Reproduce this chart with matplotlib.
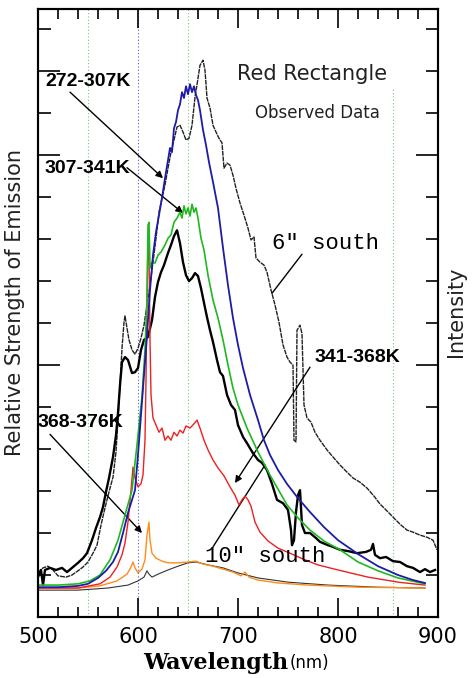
import matplotlib
matplotlib.use("Agg")
import matplotlib.pyplot as plt
from matplotlib.ticker import MultipleLocator, FixedLocator

# ---------------- data (wavelength nm, relative strength) ----------------
wl_blue = [500,520,540,550,560,568,575,580,585,590,594,597,600,603,606,609,612,615,618,621,624,627,
           630,632,634,636,638,640,642,644,646,648,650,652,654,656,658,660,662,665,668,671,675,680,
           685,690,695,700,705,712,720,726,732,740,749,760,772,786,800,820,840,860,875,887]
v_blue = [0.71,0.71,0.74,0.79,0.93,1.10,1.31,1.55,2.00,2.48,2.79,3.02,3.86,4.81,5.76,6.71,7.79,8.62,
          9.17,9.57,9.98,10.45,10.88,11.17,11.07,11.64,11.79,12.07,12.21,12.50,12.36,12.64,12.45,
          12.69,12.50,12.64,12.43,12.31,12.07,11.60,11.24,10.83,10.36,9.74,8.79,7.90,7.12,6.48,
          5.93,5.29,4.69,4.21,3.86,3.50,3.17,2.83,2.50,2.14,1.83,1.50,1.21,1.00,0.88,0.81]

wl_green = [500,520,540,552,562,572,580,587,594,599,604,607,609,610,611,612,614,617,620,623,627,630,
            633,636,639,642,644,646,648,650,652,654,656,658,660,663,666,670,675,680,685,690,695,700,
            709,720,732,749,760,772,786,802,820,840,860,887]
v_green = [0.76,0.76,0.79,0.86,1.00,1.36,1.83,2.43,3.02,4.10,5.24,6.36,7.55,9.33,9.40,8.31,8.45,
           8.43,8.62,8.69,8.86,9.02,9.10,9.40,9.50,9.64,9.50,9.79,9.60,9.74,9.55,9.83,9.64,9.74,
           9.50,9.02,8.74,8.14,7.55,7.12,6.60,6.00,5.45,5.05,4.50,3.93,3.38,2.67,2.36,2.07,1.81,
           1.60,1.31,1.10,0.93,0.79]

wl_red = [500,540,562,572,579,584,587,590,593,595,597,600,603,605,607,608,609,610,611,612,613,615,
          618,621,624,627,630,633,636,639,642,645,648,652,656,659,662,666,670,675,680,686,692,697,
          701,704,707,710,713,717,722,730,740,752,765,780,800,830,860,887]
v_red = [0.69,0.69,0.79,0.95,1.19,1.48,1.76,2.26,3.02,3.57,3.31,3.10,3.17,3.38,4.21,5.64,7.55,8.98,
         8.74,6.60,5.29,4.74,4.57,4.40,4.50,4.21,4.31,4.21,4.40,4.31,4.45,4.38,4.55,4.50,4.60,4.69,
         4.50,4.21,3.98,3.74,3.55,3.36,3.10,2.90,2.67,2.79,2.88,2.79,2.64,2.26,2.02,1.81,1.64,1.52,
         1.38,1.24,1.12,0.95,0.83,0.76]

wl_orange = [500,540,562,579,589,593,595,597,600,604,607,609,611,612,614,618,624,630,640,650,658,665,
             675,685,695,703,707,711,720,740,770,820,887]
v_orange = [0.69,0.69,0.74,0.86,1.02,1.19,1.31,1.17,1.05,1.14,1.36,1.95,2.26,1.83,1.52,1.40,1.33,
            1.29,1.29,1.31,1.33,1.26,1.21,1.14,1.07,0.98,1.07,0.95,0.88,0.81,0.76,0.71,0.69]

wl_base = [500,540,570,590,600,606,609,611,614,620,630,640,650,658,670,685,700,720,750,790,840,887]
v_base = [0.64,0.64,0.69,0.76,0.86,0.95,1.10,1.02,0.95,1.02,1.12,1.21,1.29,1.31,1.24,1.17,1.05,0.93,
          0.83,0.76,0.71,0.69]

wl_6s = [500,505,510,515,520,528,534,540,545,550,555,559,563,567,571,575,578,580,582,584,586,587,589,
         591,594,597,600,603,606,609,612,615,618,621,624,627,630,633,636,639,642,645,648,651,654,657,
         660,662,665,667,669,672,675,678,681,684,686,689,692,695,698,702,706,710,713,716,718,722,726,
         729,733,737,741,745,749,752,755,756,758,759,762,764,766,769,773,777,782,789,795,802,809,815,
         822,829,836,842,848,855,862,869,875,882,889,895,899]
v_6s = [1.05,1.17,1.21,1.12,0.98,0.95,1.00,1.10,1.19,1.31,1.52,1.71,2.19,2.60,2.98,3.33,3.93,4.69,
        5.52,6.40,7.02,7.17,6.88,6.60,6.36,6.26,6.40,6.64,6.95,7.43,7.90,8.45,9.02,9.64,9.98,10.29,
        10.69,11.07,11.36,11.67,11.71,11.55,11.36,11.40,11.71,12.38,12.83,13.14,13.26,13.02,12.36,
        12.12,11.71,11.55,11.40,11.29,10.69,10.81,10.76,10.52,10.21,9.86,9.57,9.26,8.98,9.05,8.55,
        8.45,8.38,8.21,7.79,7.43,7.02,6.48,6.19,6.07,6.00,4.21,4.17,6.83,6.95,6.74,5.05,4.74,4.64,
        4.40,4.21,3.98,3.81,3.62,3.45,3.31,3.21,3.07,2.88,2.69,2.55,2.38,2.21,2.07,2.02,1.95,1.90,
        1.83,1.60]

wl_10s = [500,503,505,507,512,518,524,529,535,540,545,549,554,558,562,565,568,571,575,578,580,582,
          584,587,590,594,597,600,603,606,610,614,617,620,623,626,630,633,636,639,642,645,648,651,
          654,657,660,663,666,669,672,675,679,682,685,689,693,697,700,705,709,715,720,724,729,734,
          739,745,750,753,754,756,758,760,762,764,767,772,778,782,790,795,802,810,819,828,833,835,
          837,842,848,855,862,869,875,882,887,892,897]
v_10s = [0.95,1.12,0.76,1.12,1.17,1.12,1.17,1.07,1.19,1.29,1.40,1.52,1.83,2.12,2.38,2.62,2.98,3.31,
         3.81,4.33,4.86,5.52,6.07,6.19,6.12,5.81,5.83,5.93,6.36,6.60,6.67,7.07,7.62,7.98,8.21,8.38,
         8.67,8.86,9.07,9.21,8.90,8.45,8.14,8.00,8.07,8.19,8.12,7.83,7.48,7.14,6.83,6.55,6.12,5.83,
         5.74,5.29,5.05,4.93,4.57,4.29,4.14,3.90,3.74,3.67,3.50,3.17,2.79,2.71,2.55,2.07,1.71,1.83,
         2.50,2.90,3.02,2.19,2.00,2.00,1.88,1.79,1.71,1.67,1.60,1.57,1.52,1.55,1.60,1.74,1.48,1.40,
         1.43,1.33,1.31,1.21,1.17,1.07,1.14,1.07,1.12]

grid_wl = [550, 600, 650, 855]
grid_colors = ["#7fc47f", "#5a5ad0", "#7fc47f", "#7fc47f"]
xtick_labels = ["500", "600", "700", "800", "900"]

# ---------------- figure ----------------
W, H = 474, 678
fig = plt.figure(figsize=(W / 100, H / 100), dpi=100)
ax = fig.add_axes([38 / W, 1 - 617 / H, 400 / W, 608 / H])
ax.set_xlim(500, 900)
ax.set_ylim(0, 14.48)

for g, c in zip(grid_wl, grid_colors):
    top = 12.6 if g > 800 else 14.48
    ax.plot([g, g], [0, top], color=c, lw=0.8, ls=(0, (1, 2)), zorder=1)

ax.plot(wl_6s, v_6s, color="#222222", lw=1.0, ls=(0, (3.5, 0.6)), zorder=3)
ax.plot(wl_10s, v_10s, color="black", lw=1.7, zorder=3)
ax.plot(wl_base, v_base, color="#333333", lw=0.8, zorder=3)
ax.plot(wl_orange, v_orange, color="#ff8c1a", lw=1.0, zorder=4)
ax.plot(wl_red, v_red, color="#ee2020", lw=1.0, zorder=4)
ax.plot(wl_green, v_green, color="#20b820", lw=1.2, zorder=4)
ax.plot(wl_blue, v_blue, color="#1c1ca8", lw=1.3, zorder=4)

# ticks
ax.set_xticks([500, 600, 700, 800, 900])
ax.set_xticklabels(xtick_labels)
ax.xaxis.set_minor_locator(MultipleLocator(20))
ax.yaxis.set_major_locator(FixedLocator([6, 11, 13]))
ax.yaxis.set_minor_locator(FixedLocator([1, 2, 3, 4, 5, 7, 8, 9, 10, 12, 14]))
ax.tick_params(axis="x", which="both", direction="in", top=True, bottom=True,
               labelsize=15, pad=7, width=1.2)
ax.tick_params(axis="x", which="major", length=14)
ax.tick_params(axis="x", which="minor", length=7)
ax.tick_params(axis="y", which="both", direction="in", left=True, right=False,
               labelleft=False, width=1.2)
ax.tick_params(axis="y", which="major", length=16)
ax.tick_params(axis="y", which="minor", length=9)
for lab in ax.get_xticklabels():
    lab.set_family("DejaVu Sans")

ax2 = ax.twinx()
ax2.set_ylim(0, 14.48)
ax2.yaxis.set_major_locator(FixedLocator([6, 11]))
ax2.yaxis.set_minor_locator(FixedLocator([1, 2, 3, 4, 5, 7, 8, 9, 10, 12, 13, 14]))
ax2.tick_params(axis="y", which="both", direction="in", labelright=False, width=1.2)
ax2.tick_params(axis="y", which="major", length=16)
ax2.tick_params(axis="y", which="minor", length=9)

for a in (ax, ax2):
    for s in a.spines.values():
        s.set_linewidth(1.5)

# annotations
arrow = dict(arrowstyle="-|>", color="black", lw=1.0, mutation_scale=10, shrinkA=0, shrinkB=0)
line = dict(arrowstyle="-", color="black", lw=1.0, shrinkA=0, shrinkB=0)
lab_kw = dict(fontsize=14, fontweight="bold", family="Liberation Sans",
              va="center", ha="left", zorder=6)
ax.text(507, 12.76, "272-307K", **lab_kw)
ax.text(507, 10.67, "307-341K", **lab_kw)
ax.text(500, 4.64, "368-376K", **lab_kw)
ax.text(777, 6.17, "341-368K", **lab_kw)
ax.annotate("", xy=(625, 10.45), xytext=(532, 12.5), arrowprops=arrow)
ax.annotate("", xy=(645, 9.62), xytext=(589, 10.7), arrowprops=arrow)
ax.annotate("", xy=(604, 2.0), xytext=(512, 4.35), arrowprops=arrow)
ax.annotate("", xy=(697, 3.19), xytext=(772, 5.95), arrowprops=arrow)
ax.annotate("", xy=(727, 3.62), xytext=(675, 1.67), arrowprops=line)
ax.annotate("", xy=(734, 7.71), xytext=(764, 8.64), arrowprops=line)

mono = dict(fontsize=16, family="Liberation Mono", va="center", ha="left", zorder=6)
ax.text(734, 8.90, "6\u2033 south", **mono)
ax.text(667, 1.43, "10\u2033 south", **mono)

ax.text(699, 12.93, "Red Rectangle", fontsize=15, family="DejaVu Sans", va="center", ha="left",
        color="#222222")
ax.text(717, 12.0, "Observed Data", fontsize=12, family="DejaVu Sans", va="center", ha="left",
        color="#222222")

fig.text(143 / W, 1 - 663 / H, "Wavelength", fontsize=16, fontweight="bold",
         family="DejaVu Serif", va="center", ha="left")
fig.text(290 / W, 1 - 663 / H, "(nm)", fontsize=12, family="DejaVu Sans", va="center", ha="left")
fig.text(15 / W, 1 - 303 / H, "Relative Strength of Emission", fontsize=15, family="DejaVu Sans",
         rotation=90, va="center", ha="center", color="#222222")
fig.text(456 / W, 1 - 312 / H, "Intensity", fontsize=15, family="DejaVu Sans",
         rotation=90, va="center", ha="center", color="#222222")

fig.savefig("out.png", dpi=100)
